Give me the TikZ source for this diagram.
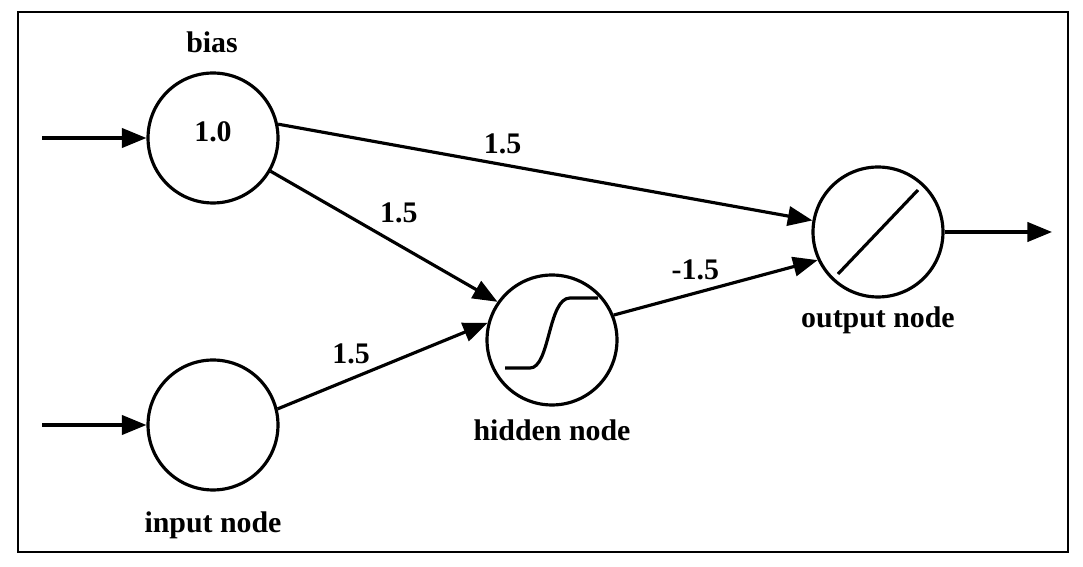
\documentclass[tikz,border=0pt]{standalone}
\usepackage{fontspec}
\setmainfont{Liberation Serif}
\usetikzlibrary{arrows.meta}
\begin{document}
\begin{tikzpicture}[x=0.02cm,y=-0.02cm,
  neuron/.style={circle,draw,line width=1.8pt,minimum size=2.6cm,inner sep=0pt},
  lbl/.style={font=\bfseries\fontsize{17}{19}\selectfont},
  conn/.style={line width=1.8pt,-{Triangle[length=14pt,width=11pt]}}]
\useasboundingbox (0,0) rectangle (1083,567);
\draw[line width=1pt] (18,12) rectangle (1068,552);
\node[neuron] (bias) at (213,138) {};
\node[neuron] (input) at (213,425) {};
\node[neuron] (hidden) at (552,340) {};
\node[neuron] (output) at (878,232) {};
\node[lbl] (bl) at (212,42) {bias};
\node[lbl] (bv) at (213,132) {1.0};
\node[lbl] (il) at (213,525) {input node};
\node[lbl] (hl) at (552,430) {hidden node};
\node[lbl] (ol) at (878,320) {output node};
\coordinate (inb) at (42,138);
\coordinate (ini) at (42,425);
\coordinate (outo) at (1052,232);
\draw[conn] (inb) -- (bias.west);
\draw[conn] (ini) -- (input.west);
\draw[conn] (output.east) -- (outo);
\draw[conn] (bias.12) -- (output.170) node[lbl,pos=0.42,above=2pt] (w1) {1.5};
\draw[conn] (bias.-30) -- (hidden.145) node[lbl,pos=0.45,above right=0pt] (w2) {1.5};
\draw[conn] (input.14) -- (hidden.165) node[lbl,pos=0.35,above=4pt] (w3) {1.5};
\draw[conn] (hidden.22) -- (output.205) node[lbl,pos=0.4,above=3pt] (w4) {-1.5};
\draw[line width=1.8pt] (505,368) -- (530,368) .. controls (550,368) and (548,298) .. (570,298) -- (598,298);
\draw[line width=1.8pt] (838,274) -- (918,190);
\end{tikzpicture}
\end{document}
